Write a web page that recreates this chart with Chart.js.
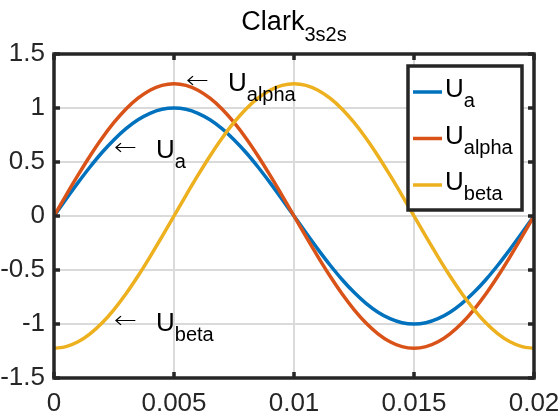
<!DOCTYPE html>
<html>
<head>
<meta charset="utf-8">
<script src="https://cdn.jsdelivr.net/npm/chart.js@4"></script>
<style>
  html, body { margin: 0; padding: 0; background: #fff; }
  #wrap { width: 560px; height: 420px; }
</style>
</head>
<body>
<div id="wrap"><canvas id="clarkChart"></canvas></div>
<script>
// time samples (s) and the three voltages
const time = [0, 0.0005, 0.001, 0.0015, 0.002, 0.0025, 0.003, 0.0035, 0.004, 0.0045,
  0.005, 0.0055, 0.006, 0.0065, 0.007, 0.0075, 0.008, 0.0085, 0.009, 0.0095,
  0.01, 0.0105, 0.011, 0.0115, 0.012, 0.0125, 0.013, 0.0135, 0.014, 0.0145,
  0.015, 0.0155, 0.016, 0.0165, 0.017, 0.0175, 0.018, 0.0185, 0.019, 0.0195, 0.02];

const uA = [0, 0.156, 0.309, 0.454, 0.588, 0.707, 0.809, 0.891, 0.951, 0.988,
  1, 0.988, 0.951, 0.891, 0.809, 0.707, 0.588, 0.454, 0.309, 0.156,
  0, -0.156, -0.309, -0.454, -0.588, -0.707, -0.809, -0.891, -0.951, -0.988,
  -1, -0.988, -0.951, -0.891, -0.809, -0.707, -0.588, -0.454, -0.309, -0.156, 0];

const uAlpha = [0, 0.192, 0.378, 0.556, 0.720, 0.866, 0.991, 1.091, 1.165, 1.210,
  1.225, 1.210, 1.165, 1.091, 0.991, 0.866, 0.720, 0.556, 0.378, 0.192,
  0, -0.192, -0.378, -0.556, -0.720, -0.866, -0.991, -1.091, -1.165, -1.210,
  -1.225, -1.210, -1.165, -1.091, -0.991, -0.866, -0.720, -0.556, -0.378, -0.192, 0];

const uBeta = [-1.225, -1.210, -1.165, -1.091, -0.991, -0.866, -0.720, -0.556, -0.378, -0.192,
  0, 0.192, 0.378, 0.556, 0.720, 0.866, 0.991, 1.091, 1.165, 1.210,
  1.225, 1.210, 1.165, 1.091, 0.991, 0.866, 0.720, 0.556, 0.378, 0.192,
  0, -0.192, -0.378, -0.556, -0.720, -0.866, -0.991, -1.091, -1.165, -1.210, -1.225];

const xTickLabels = ['0', '0.005', '0.01', '0.015', '0.02'];
const yTickLabels = ['-1.5', '-1', '-0.5', '0', '0.5', '1', '1.5'];

// legend / annotation text: main letter + subscript
const seriesNames = [['U', 'a'], ['U', 'alpha'], ['U', 'beta']];

// MATLAB default colours
const colors = {
  blue: '#0072BD',
  red: '#D95319',
  yellow: '#EDB120',
  axis: '#262626',
  grid: '#dadada'
};

const FONT = '"Liberation Sans", Arial, sans-serif';

function points(ys) {
  return time.map((t, i) => ({ x: t, y: ys[i] }));
}

// text labels with arrows, anchored in data coordinates
const notes = [
  { x: 0.0055, y: 1.24, name: seriesNames[1] },
  { x: 0.0025, y: 0.62, name: seriesNames[0] },
  { x: 0.0025, y: -0.98, name: seriesNames[2] }
];

function drawSub(ctx, x, y, main, sub, size, subSize, drop) {
  ctx.font = size + 'px ' + FONT;
  ctx.fillText(main, x, y);
  const w = ctx.measureText(main).width;
  ctx.font = subSize + 'px ' + FONT;
  ctx.fillText(sub, x + w, y + drop);
  return w + ctx.measureText(sub).width;
}

function drawArrow(ctx, x, y) {
  // left arrow glyph, stretched to the long thin MATLAB \leftarrow
  ctx.save();
  ctx.font = '200 24px "DejaVu Sans", sans-serif';
  ctx.textBaseline = 'middle';
  const w = ctx.measureText('\u2190').width;
  ctx.translate(x, y);
  ctx.scale(23 / w, 1);
  ctx.fillText('\u2190', 0, 0);
  ctx.restore();
}

const matlabLook = {
  id: 'matlabLook',
  afterDraw(chart) {
    const ctx = chart.ctx;
    const a = chart.chartArea;
    const xs = chart.scales.x, ys = chart.scales.y;
    ctx.save();

    // title with subscript
    ctx.fillStyle = '#000';
    ctx.textBaseline = 'alphabetic';
    ctx.textAlign = 'left';
    ctx.font = '27px ' + FONT;
    const w1 = ctx.measureText('Clark').width;
    ctx.font = '20px ' + FONT;
    const w2 = ctx.measureText('3s2s').width;
    const tx = (a.left + a.right) / 2 - (w1 + w2) / 2;
    drawSub(ctx, tx, 30, 'Clark', '3s2s', 27, 20, 11);

    // box and inward ticks
    ctx.strokeStyle = colors.axis;
    ctx.lineWidth = 3.5;
    ctx.strokeRect(a.left, a.top, a.right - a.left, a.bottom - a.top);
    const tl = 6;
    ctx.beginPath();
    xs.ticks.forEach(t => {
      const px = xs.getPixelForValue(t.value);
      ctx.moveTo(px, a.bottom); ctx.lineTo(px, a.bottom - tl);
      ctx.moveTo(px, a.top); ctx.lineTo(px, a.top + tl);
    });
    ys.ticks.forEach(t => {
      const py = ys.getPixelForValue(t.value);
      ctx.moveTo(a.left, py); ctx.lineTo(a.left + tl, py);
      ctx.moveTo(a.right, py); ctx.lineTo(a.right - tl, py);
    });
    ctx.stroke();

    // arrow annotations
    ctx.fillStyle = '#000';
    notes.forEach(n => {
      const px = xs.getPixelForValue(n.x);
      const py = ys.getPixelForValue(n.y);
      drawArrow(ctx, px, py);
      ctx.textBaseline = 'alphabetic';
      drawSub(ctx, px + 42, py + 9, n.name[0], n.name[1], 26, 20, 10);
    });

    // legend box
    const bx = a.right - 126, by = a.top + 12, bw = 114, bh = 144;
    ctx.fillStyle = '#fff';
    ctx.fillRect(bx, by, bw, bh);
    ctx.strokeStyle = colors.axis;
    ctx.lineWidth = 3.5;
    ctx.strokeRect(bx, by, bw, bh);
    chart.data.datasets.forEach((ds, i) => {
      const ly = by + 26 + i * 46.5;
      ctx.strokeStyle = ds.borderColor;
      ctx.lineWidth = 3.5;
      ctx.beginPath();
      ctx.moveTo(bx + 5, ly);
      ctx.lineTo(bx + 34, ly);
      ctx.stroke();
      ctx.fillStyle = '#000';
      drawSub(ctx, bx + 37, ly + 5, seriesNames[i][0], seriesNames[i][1], 26, 20, 10);
    });

    ctx.restore();
  }
};

new Chart(document.getElementById('clarkChart'), {
  type: 'line',
  data: {
    datasets: [
      { label: 'Ua', data: points(uA), borderColor: colors.blue, order: 2 },
      { label: 'Ualpha', data: points(uAlpha), borderColor: colors.red, order: 1 },
      { label: 'Ubeta', data: points(uBeta), borderColor: colors.yellow, order: 0 }
    ]
  },
  options: {
    responsive: true,
    maintainAspectRatio: false,
    animation: false,
    elements: {
      line: { borderWidth: 3.5, cubicInterpolationMode: 'monotone', fill: false },
      point: { radius: 0, hoverRadius: 0 }
    },
    layout: { padding: { top: 54, right: 26, left: 0, bottom: 0 } },
    plugins: {
      legend: { display: false },
      title: { display: false },
      tooltip: { enabled: false }
    },
    scales: {
      x: {
        type: 'linear',
        min: 0,
        max: 0.02,
        afterFit(scale) {
          scale.height = 42;
          scale.paddingLeft = 0;
          scale.paddingRight = 0;
        },
        afterBuildTicks(scale) {
          scale.ticks = xTickLabels.map(v => ({ value: parseFloat(v) }));
        },
        ticks: {
          autoSkip: false,
          maxRotation: 0,
          padding: 10,
          color: colors.axis,
          font: { family: FONT, size: 26 },
          callback: (v, i) => xTickLabels[i]
        },
        grid: { color: colors.grid, lineWidth: 2, drawTicks: false },
        border: { display: false }
      },
      y: {
        type: 'linear',
        min: -1.5,
        max: 1.5,
        afterFit(scale) {
          scale.width = 54;
          scale.paddingTop = 0;
          scale.paddingBottom = 0;
        },
        afterBuildTicks(scale) {
          scale.ticks = yTickLabels.map(v => ({ value: parseFloat(v) }));
        },
        ticks: {
          autoSkip: false,
          padding: 9,
          color: colors.axis,
          font: { family: FONT, size: 26 },
          callback: (v, i) => yTickLabels[i]
        },
        grid: { color: colors.grid, lineWidth: 2, drawTicks: false },
        border: { display: false }
      }
    }
  },
  plugins: [matlabLook]
});
</script>
</body>
</html>
